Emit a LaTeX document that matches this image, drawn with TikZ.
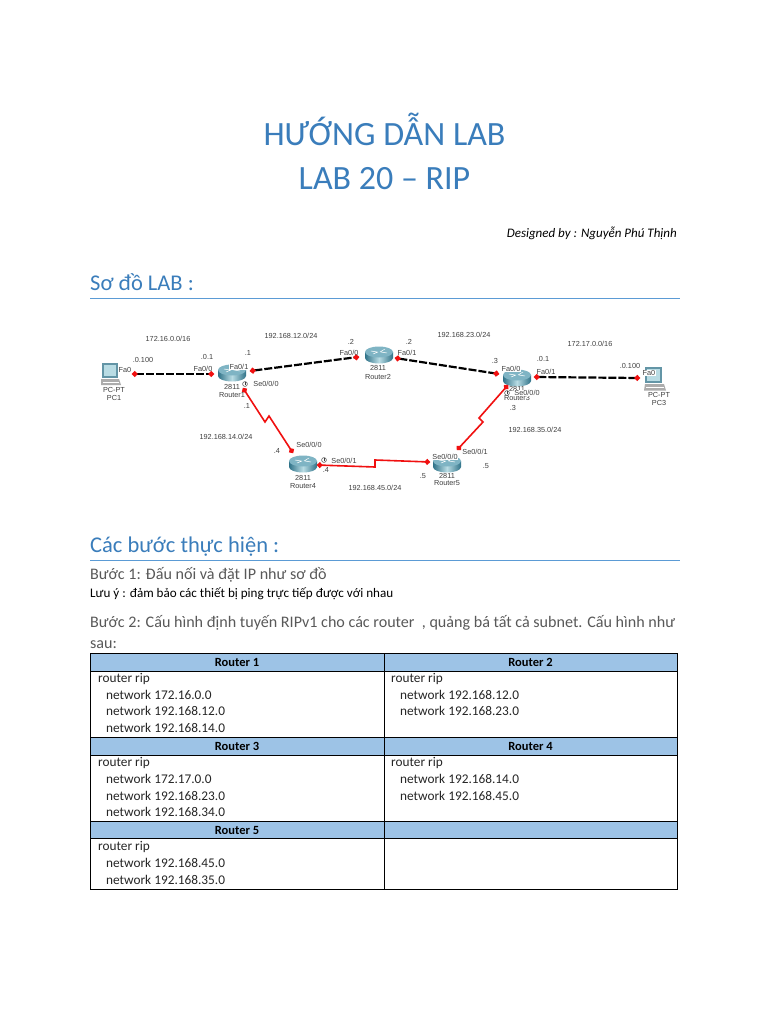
\documentclass[tikz,border=0pt]{standalone}
\usepackage{fontspec}
\setmainfont{Carlito}
\newfontfamily\netfont{Liberation Sans}
\usetikzlibrary{arrows.meta}
\definecolor{headblue}{HTML}{3A7DBB}
\definecolor{rulecol}{HTML}{5B9BD5}
\definecolor{stepgray}{HTML}{595959}
\definecolor{cellblue}{HTML}{9DC3E6}
\definecolor{netgray}{HTML}{3F3F3F}
\definecolor{linkred}{HTML}{F01010}
\definecolor{tealdark}{HTML}{2F7288}
\definecolor{teallight}{HTML}{B9DCE4}
\definecolor{tealtop}{HTML}{7FB4C4}
\tikzset{
  x=1pt,y=-1pt,
  title/.style={font=\fontsize{34}{38}\selectfont,text=headblue,inner sep=0pt,anchor=base},
  heading/.style={font=\fontsize{22.5}{26}\selectfont,text=headblue,anchor=base west,inner sep=0pt},
  steptext/.style={font=\fontsize{16.1}{19}\selectfont,text=stepgray,anchor=base west,inner sep=0pt},
  headrule/.style={draw=rulecol,line width=0.8pt},
  lbl/.style={font=\netfont\fontsize{7.3}{8}\selectfont,text=netgray,inner sep=0pt},
  lblw/.style={lbl,fill=white,inner sep=0.4pt},
  ethlink/.style={draw=black,line width=2.2pt,dash pattern=on 8pt off 2pt,{Circle[linkred,length=5.5pt]}-{Circle[linkred,length=5.5pt]}},
  serlink/.style={draw=linkred,line width=1.6pt,{Circle[linkred,length=5.5pt]}-{Circle[linkred,length=5.5pt]}},
  cellbox/.style={draw=black,line width=0.7pt},
  cellhead/.style={cellbox,fill=cellblue},
  headtext/.style={font=\bfseries\fontsize{12.5}{14}\selectfont,text=black,inner sep=0pt,anchor=base},
  celltext/.style={font=\fontsize{13.3}{15}\selectfont,text=black!85,anchor=base west,inner sep=0pt},
  routerpic/.pic={
    \path[left color=tealdark,right color=tealdark,middle color=teallight]
      (-14,-3) -- (-14,3) arc[start angle=180,end angle=0,x radius=14,y radius=5.5] -- (14,-3) -- cycle;
    \fill[tealtop] (0,-3) ellipse[x radius=14,y radius=5.5];
    \draw[white,line width=0.5pt] (-8,-4) -- (-2,-3) (2,-3) -- (8,-2) (-6,-1) -- (-1,-3) (1,-3) -- (6,-6);
  },
  pcpic/.pic={
    \fill[tealdark!75] (-11,-12) -- (5,-12) -- (5,3) -- (-11,3) -- cycle;
    \fill[teallight] (-9,-10) rectangle (3,1);
    \fill[gray!65] (-12,4) -- (6,4) -- (8,10) -- (-12,10) -- cycle;
    \draw[white,line width=0.4pt] (-10,7) -- (6,7);
  },
  pcflip/.pic={
    \fill[tealdark!75] (-10,-11) -- (7,-11) -- (7,5) -- (-10,5) -- cycle;
    \fill[teallight] (-8,-9) rectangle (5,3);
    \fill[gray!65] (-10,6) -- (9,6) -- (11,12.5) -- (-11,12.5) -- cycle;
    \draw[white,line width=0.4pt] (-9,9) -- (9,9);
  },
  clockpic/.pic={
    \draw[netgray,line width=0.5pt] (0,0) circle[radius=2.4];
    \draw[netgray,line width=0.5pt] (0,-1.6) -- (0,0) -- (1.4,0);
  },
}
\begin{document}
\begin{tikzpicture}
\useasboundingbox (0,0) rectangle (768,1024);
\fill[white] (0,0) rectangle (768,1024);

% Titles
\node[title] (t1) at (384.5,146) {HƯỚNG DẪN LAB};
\node[title] (t2) at (384.5,189.5) {LAB 20 – RIP};
\node[font=\itshape\fontsize{13}{15}\selectfont,text=black,anchor=base east,inner sep=0pt] (designed) at (677,237) {Designed by : Nguyễn Phú Thịnh};
\node[heading] (h1) at (90,290) {Sơ đồ LAB :};
\draw[headrule] (90,298) -- (680,298);

% Network
\pic at (113,375) {pcpic};
\pic at (655,378) {pcflip};
\pic at (232,373) {routerpic};
\pic at (379,355) {routerpic};
\pic at (517,378) {routerpic};
\pic at (303,464) {routerpic};
\pic at (447,464) {routerpic};

\coordinate (pcA) at (132,374);
\coordinate (rAl) at (214,374);
\coordinate (rAr) at (250,371);
\coordinate (rBl) at (359,357);
\coordinate (rBbend) at (350,358);
\coordinate (rBr) at (395,358);
\coordinate (rCl) at (499,374);
\coordinate (rCr) at (534,377);
\coordinate (pcC) at (640,378);
\coordinate (rAs) at (243,388);
\coordinate (zA1) at (265,422);
\coordinate (zA2) at (269,416);
\coordinate (rDt) at (293,453);
\coordinate (rDr) at (317,465);
\coordinate (zB1) at (375,467);
\coordinate (zB2) at (375,460);
\coordinate (rEl) at (430,462);
\coordinate (rEt) at (457,450);
\coordinate (zC1) at (483,422);
\coordinate (zC2) at (479,418);
\coordinate (rCs) at (508,385);

\draw[ethlink] (pcA) -- (rAl);
\draw[ethlink] (rAr) -- (rBbend) -- (rBl);
\draw[ethlink] (rBr) -- (rCl);
\draw[ethlink] (rCr) -- (pcC);
\draw[serlink] (rAs) -- (zA1) -- (zA2) -- (rDt);
\draw[serlink] (rDr) -- (zB1) -- (zB2) -- (rEl);
\draw[serlink] (rEt) -- (zC1) -- (zC2) -- (rCs);

\pic at (245,384) {clockpic};
\pic at (324,460) {clockpic};
\pic at (507,393) {clockpic};

\node[lbl] (n1) at (168,339) {172.16.0.0/16};
\node[lbl] (n2) at (291,336) {192.168.12.0/24};
\node[lbl] (n3) at (464,335) {192.168.23.0/24};
\node[lbl] (n4) at (590,344) {172.17.0.0/16};
\node[lbl] (n5) at (226,437) {192.168.14.0/24};
\node[lbl] (n6) at (535,430) {192.168.35.0/24};
\node[lbl] (n7) at (375,488) {192.168.45.0/24};
\node[lbl] (a1) at (143,360) {.0.100};
\node[lbl] (a2) at (207,357) {.0.1};
\node[lbl] (a3) at (248,353) {.1};
\node[lbl] (a4) at (351,342) {.2};
\node[lbl] (a5) at (409,342) {.2};
\node[lbl] (a6) at (495,361) {.3};
\node[lbl] (a7) at (543,359) {.0.1};
\node[lbl] (a8) at (630,366) {.0.100};
\node[lbl] (a9) at (247,406) {.1};
\node[lbl] (a10) at (277,451) {.4};
\node[lbl] (a11) at (326,470) {.4};
\node[lbl] (a12) at (513,408) {.3};
\node[lbl] (a13) at (486,466) {.5};
\node[lbl] (a14) at (423,476) {.5};
\node[lblw] (f1) at (125,370) {Fa0};
\node[lbl] (f2) at (203,369) {Fa0/0};
\node[lblw] (f3) at (239,367) {Fa0/1};
\node[lbl] (f4) at (349,353) {Fa0/0};
\node[lbl] (f5) at (407,353) {Fa0/1};
\node[lblw] (f6) at (511,369) {Fa0/0};
\node[lbl] (f7) at (546,372) {Fa0/1};
\node[lblw] (f8) at (649,373) {Fa0};
\node[lbl] (s1) at (266,384) {Se0/0/0};
\node[lbl] (s2) at (309,445) {Se0/0/0};
\node[lbl] (s3) at (344,461) {Se0/0/1};
\node[lblw] (s4) at (445,457) {Se0/0/0};
\node[lbl] (s5) at (475,452) {Se0/0/1};
\node[lbl] (d1) at (114,390) {PC-PT};
\node[lbl] (d2) at (114,398) {PC1};
\node[lbl] (d3) at (659,395) {PC-PT};
\node[lbl] (d4) at (659,403) {PC3};
\node[lbl] (m1) at (232,387) {2811};
\node[lbl] (m2) at (232,395) {Router1};
\node[lbl] (m3) at (378,368) {2811};
\node[lbl] (m4) at (378,377) {Router2};
\node[lbl] (m5) at (517,389) {2811};
\node[lbl] (m6) at (517,398) {Router3};
\node[lblw] (s6) at (527,393) {Se0/0/0};
\node[lbl] (m7) at (303,478) {2811};
\node[lbl] (m8) at (303,486) {Router4};
\node[lbl] (m9) at (447,476) {2811};
\node[lbl] (m10) at (447,483) {Router5};

% Steps
\node[heading] (h2) at (90,552) {Các bước thực hiện :};
\draw[headrule] (90,560) -- (680,560);
\node[steptext] (b1) at (90,579) {Bước 1: Đấu nối và đặt IP như sơ đồ};
\node[font=\fontsize{13.1}{15}\selectfont,text=black,anchor=base west,inner sep=0pt] (note) at (90,597) {Lưu ý : đảm bảo các thiết bị ping trực tiếp được với nhau};
\node[steptext] (b2) at (90,627) {Bước 2: Cấu hình định tuyến RIPv1 cho các router\ \ , quảng bá tất cả subnet. Cấu hình như};
\node[steptext] (b3) at (90,648) {sau:};

% Table
\draw[cellhead] (90,653) rectangle (384,671);
\draw[cellhead] (384,653) rectangle (677,671);
\draw[cellbox] (90,671) rectangle (384,737);
\draw[cellbox] (384,671) rectangle (677,737);
\draw[cellhead] (90,737) rectangle (384,755);
\draw[cellhead] (384,737) rectangle (677,755);
\draw[cellbox] (90,755) rectangle (384,821);
\draw[cellbox] (384,755) rectangle (677,821);
\draw[cellhead] (90,821) rectangle (384,838);
\draw[cellhead] (384,821) rectangle (677,838);
\draw[cellbox] (90,838) rectangle (384,889);
\draw[cellbox] (384,838) rectangle (677,889);

\node[headtext] (th1) at (237,666) {Router 1};
\node[headtext] (th2) at (530.5,666) {Router 2};
\node[headtext] (th3) at (237,750) {Router 3};
\node[headtext] (th4) at (530.5,750) {Router 4};
\node[headtext] (th5) at (237,834) {Router 5};

\node[celltext] (c1a) at (98,682) {router rip};
\node[celltext] (c1b) at (106,699) {network 172.16.0.0};
\node[celltext] (c1c) at (106,715) {network 192.168.12.0};
\node[celltext] (c1d) at (106,732) {network 192.168.14.0};
\node[celltext] (c2a) at (391,682) {router rip};
\node[celltext] (c2b) at (400,699) {network 192.168.12.0};
\node[celltext] (c2c) at (400,715) {network 192.168.23.0};
\node[celltext] (c3a) at (98,766) {router rip};
\node[celltext] (c3b) at (106,783) {network 172.17.0.0};
\node[celltext] (c3c) at (106,800) {network 192.168.23.0};
\node[celltext] (c3d) at (106,816) {network 192.168.34.0};
\node[celltext] (c4a) at (391,766) {router rip};
\node[celltext] (c4b) at (400,783) {network 192.168.14.0};
\node[celltext] (c4c) at (400,800) {network 192.168.45.0};
\node[celltext] (c5a) at (98,850) {router rip};
\node[celltext] (c5b) at (106,867) {network 192.168.45.0};
\node[celltext] (c5c) at (106,884) {network 192.168.35.0};
\end{tikzpicture}
\end{document}
